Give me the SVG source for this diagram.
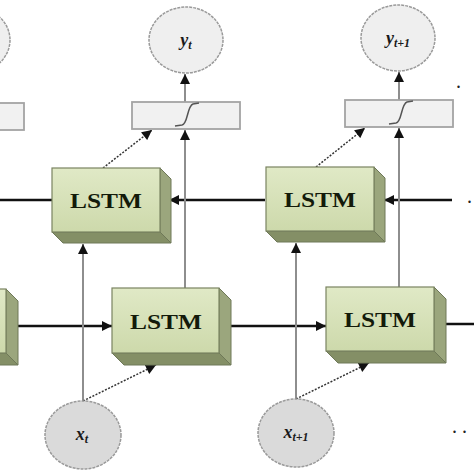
<svg xmlns="http://www.w3.org/2000/svg" width="474" height="474" viewBox="0 0 474 474">
<defs>
<marker id="ah" viewBox="0 0 10 10" refX="10" refY="5" markerWidth="11" markerHeight="10" markerUnits="userSpaceOnUse" orient="auto">
<path d="M0,0 L10,5 L0,10 Z" fill="#111"/>
</marker>
<linearGradient id="gf" x1="0" y1="0" x2="0" y2="1">
<stop offset="0" stop-color="#e0e9c6"/>
<stop offset="1" stop-color="#cdd9ab"/>
</linearGradient>
</defs>
<style>
.front{fill:url(#gf);stroke:#7a8461;stroke-width:1.2}
.side{fill:#9ba67d;stroke:#6e7858;stroke-width:1}
.bot{fill:#848f66;stroke:#6e7858;stroke-width:1}
.lt{font-family:"Liberation Serif",serif;font-weight:bold;font-size:22px;fill:#131a0a;text-anchor:middle}
.circy{fill:#efefef;stroke:#9a9a9a;stroke-width:1.5;stroke-dasharray:3,1}
.circx{fill:#dadada;stroke:#9a9a9a;stroke-width:1.5;stroke-dasharray:3,1}
.sig{fill:#f1f1f1;stroke:#a4a4a4;stroke-width:1.8}
.curve{fill:none;stroke:#555;stroke-width:1.5}
.lab{font-family:"Liberation Serif",serif;font-style:italic;font-weight:bold;font-size:18px;fill:#1a1a1a;text-anchor:middle}
.sub{font-size:12px}
.h{stroke:#111;stroke-width:2.5;fill:none}
.v{stroke:#8e8e8e;stroke-width:2;fill:none}
.d{stroke:#333;stroke-width:1.5;stroke-dasharray:2,1.5;fill:none}
.dot{font-family:"Liberation Serif",serif;font-size:20px;fill:#222}
</style>

<g id="connectors">
<line class="h" x1="0" y1="200" x2="52" y2="200"/>
<line class="h" x1="265" y1="200" x2="169" y2="200" marker-end="url(#ah)"/>
<line class="h" x1="452" y1="200" x2="384" y2="200" marker-end="url(#ah)"/>
<line class="h" x1="12" y1="326" x2="112" y2="326" marker-end="url(#ah)"/>
<line class="h" x1="230" y1="326" x2="326" y2="326" marker-end="url(#ah)"/>
<line class="h" x1="445" y1="324" x2="474" y2="324"/>
<line class="v" x1="185" y1="288" x2="185" y2="130" marker-end="url(#ah)"/>
<line class="v" x1="185" y1="102" x2="185" y2="74" marker-end="url(#ah)"/>
<line class="v" x1="399" y1="287" x2="399" y2="128" marker-end="url(#ah)"/>
<line class="v" x1="399" y1="100" x2="399" y2="72" marker-end="url(#ah)"/>
<line class="v" x1="83" y1="401" x2="83" y2="244" marker-end="url(#ah)"/>
<line class="v" x1="296" y1="399" x2="296" y2="243" marker-end="url(#ah)"/>
<line class="d" x1="103" y1="168" x2="152" y2="130" marker-end="url(#ah)"/>
<line class="d" x1="316" y1="167" x2="365" y2="128" marker-end="url(#ah)"/>
<line class="d" x1="83" y1="401" x2="156" y2="365" marker-end="url(#ah)"/>
<line class="d" x1="296" y1="399" x2="369" y2="363" marker-end="url(#ah)"/>
</g>

<g id="y-prev"><ellipse class="circy" cx="-27" cy="40" rx="37" ry="33"/></g>
<g id="sig-prev"><rect class="sig" x="-84" y="103" width="108" height="27"/></g>

<g id="y-t">
<ellipse class="circy" cx="186" cy="40" rx="37" ry="33"/>
<text class="lab" x="186" y="46">y<tspan class="sub" dy="3">t</tspan></text>
</g>
<g id="y-t1">
<ellipse class="circy" cx="398" cy="38" rx="37" ry="33"/>
<text class="lab" x="398" y="44">y<tspan class="sub" dy="3">t+1</tspan></text>
</g>

<g id="sig-t">
<rect class="sig" x="132" y="102" width="108" height="27"/>
<path class="curve" d="M175,126 L182,125 C188,124 187,106 193,104 L199,103"/>
</g>
<g id="sig-t1">
<rect class="sig" x="345" y="100" width="108" height="27"/>
<path class="curve" d="M389,124 L396,123 C402,122 401,104 407,102 L413,101"/>
</g>

<g id="lstm-top-t">
<polygon class="side" points="160,168 171,179 171,243 160,232"/>
<polygon class="bot" points="52,232 160,232 171,243 63,243"/>
<rect class="front" x="52" y="168" width="108" height="64"/>
<text class="lt" x="106" y="208" textLength="72" lengthAdjust="spacingAndGlyphs">LSTM</text>
</g>
<g id="lstm-top-t1">
<polygon class="side" points="374,167 385,178 385,242 374,231"/>
<polygon class="bot" points="266,231 374,231 385,242 277,242"/>
<rect class="front" x="266" y="167" width="108" height="64"/>
<text class="lt" x="320" y="207" textLength="72" lengthAdjust="spacingAndGlyphs">LSTM</text>
</g>
<g id="lstm-bot-prev">
<polygon class="side" points="6,289 18,301 18,365 6,353"/>
<polygon class="bot" points="-102,353 6,353 18,365 -90,365"/>
<rect class="front" x="-102" y="289" width="108" height="64"/>
</g>
<g id="lstm-bot-t">
<polygon class="side" points="219,288 231,300 231,365 219,353"/>
<polygon class="bot" points="112,353 219,353 231,365 124,365"/>
<rect class="front" x="112" y="288" width="107" height="65"/>
<text class="lt" x="166" y="329" textLength="72" lengthAdjust="spacingAndGlyphs">LSTM</text>
</g>
<g id="lstm-bot-t1">
<polygon class="side" points="434,287 446,299 446,363 434,351"/>
<polygon class="bot" points="326,351 434,351 446,363 338,363"/>
<rect class="front" x="326" y="287" width="108" height="64"/>
<text class="lt" x="380" y="327" textLength="72" lengthAdjust="spacingAndGlyphs">LSTM</text>
</g>

<g id="x-t">
<ellipse class="circx" cx="83" cy="435" rx="38" ry="34"/>
<text class="lab" x="82" y="440">x<tspan class="sub" dy="3">t</tspan></text>
</g>
<g id="x-t1">
<ellipse class="circx" cx="296" cy="433" rx="38" ry="34"/>
<text class="lab" x="296" y="438">x<tspan class="sub" dy="3">t+1</tspan></text>
</g>

<text class="dot" x="456" y="88">.</text>
<text class="dot" x="467" y="203">.</text>
<text class="dot" x="452" y="433">. .</text>
</svg>
